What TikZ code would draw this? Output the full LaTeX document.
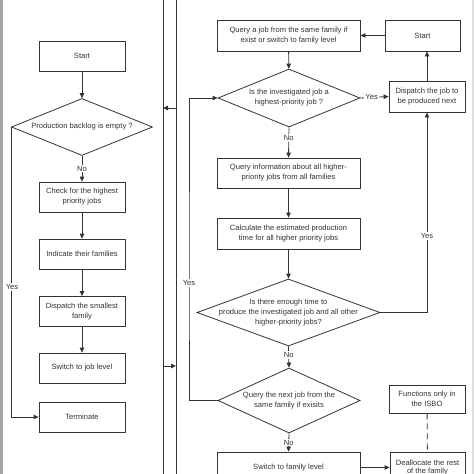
\documentclass[tikz,border=0pt]{standalone}
\usepackage{fontspec}
\setmainfont{Liberation Sans}
\usetikzlibrary{shapes.geometric, arrows.meta}

\begin{document}
\begin{tikzpicture}[x=1pt, y=-1pt,
    every node/.style={font=\fontsize{7.6}{10}\selectfont, text=black!80},
    process/.style={draw=black!80, line width=0.8pt, minimum height=30pt, inner sep=1pt, align=center},
    decision/.style={diamond, draw=black!80, line width=0.8pt, inner sep=0pt},
    txt/.style={align=center, inner sep=0pt},
    lbl/.style={fill=white, inner sep=1pt},
    flow/.style={draw=black!80, line width=0.8pt, -{Triangle[length=5pt, width=4.5pt]}},
    line/.style={draw=black!80, line width=0.8pt}]
    \useasboundingbox (0,0) rectangle (474,474);
    \clip (0,0) rectangle (474,474);
    \fill[gray!70] (0,0) rectangle (3,474);
    \fill[gray!25] (472,0) rectangle (474,474);

    % left chart
    \node[process, minimum width=86pt] (start1) at (82,56) {Start};
    \node[decision, minimum width=141pt, minimum height=57pt] (dec1) at (82,127) {};
    \node[txt] (dec1t) at (dec1) {Production backlog is empty ?};
    \node[process, minimum width=86pt] (check) at (82,197) {Check for the highest\\priority jobs};
    \node[process, minimum width=86pt] (indicate) at (82,254) {Indicate their families};
    \node[process, minimum width=86pt] (dispsmall) at (82,311.5) {Dispatch the smallest\\family};
    \node[process, minimum width=86pt] (joblevel) at (82,368) {Switch to job level};
    \node[process, minimum width=86pt] (term) at (82,417) {Terminate};

    \draw[flow] (start1) -- (dec1);
    \draw[flow] (dec1.south) -- (check.north) node[lbl, midway] {No};
    \draw[flow] (check) -- (indicate);
    \draw[flow] (indicate) -- (dispsmall);
    \draw[flow] (dispsmall) -- (joblevel);
    \draw[flow] (dec1.west) |- (term.west);
    \node[lbl] (yes1) at (12,287) {Yes};

    % middle lines
    \draw[line] (163,0) -- (163,474);
    \draw[line] (176,0) -- (176,474);
    \coordinate (inA) at (176,108);
    \coordinate (inB) at (163,108);
    \coordinate (outA) at (163,366);
    \coordinate (outB) at (176,366);
    \draw[flow] (inA) -- (inB);
    \draw[flow] (outA) -- (outB);

    % right chart
    \node[process, minimum width=143pt, minimum height=31pt] (query) at (288.5,35.5) {Query a job from the same family if\\exist or switch to family level};
    \node[process, minimum width=75pt, minimum height=31pt] (start2) at (422.5,35.5) {Start};
    \node[decision, minimum width=142pt, minimum height=58pt] (dec2) at (289,98) {};
    \node[txt] (dec2t) at (dec2) {Is the investigated job a\\highest-priority job ?};
    \node[process, minimum width=76pt, minimum height=31pt] (dispnext) at (427,96.5) {Dispatch the job to\\be produced next};
    \node[process, minimum width=143pt] (info) at (288.5,173) {Query information about all higher-\\priority jobs from all families};
    \node[process, minimum width=143pt, minimum height=31pt] (calc) at (288.5,233.5) {Calculate the estimated production\\time for all higher priority jobs};
    \node[decision, minimum width=183pt, minimum height=67pt] (dec3) at (288.5,312.5) {};
    \node[txt] (dec3t) at (dec3) {Is there enough time to\\produce the investigated job and all other\\higher-priority jobs?};
    \node[decision, minimum width=142pt, minimum height=65pt] (dec4) at (289,400.5) {};
    \node[txt] (dec4t) at (dec4) {Query the next job from the\\same family if exisits};
    \node[process, minimum width=143pt, minimum height=31pt] (famlevel) at (288.5,467.5) {Switch to family level};
    \node[process, minimum width=76pt, minimum height=28pt] (isbo) at (427,399) {Functions only in\\the ISBO};
    \node[process, minimum width=75pt, minimum height=31pt, font=\fontsize{7.6}{8.8}\selectfont] (dealloc) at (427.5,467.5) {Deallocate the rest\\of the family};

    \draw[flow] (start2) -- (query);
    \draw[flow] (query) -- (dec2);
    \draw[flow] (dec2.east) -- (dispnext.west) node[lbl, pos=0.4] {Yes};
    \draw[flow] (dispnext.north) -- (dispnext.north |- start2.south);
    \draw[flow] (dec2.south) -- (info.north) node[lbl, pos=0.35] {No};
    \draw[flow] (info) -- (calc);
    \draw[flow] (calc) -- (dec3);
    \draw[flow] (dec3.east) -| (dispnext.south);
    \node[lbl] (yes3) at (427,236) {Yes};
    \draw[flow] (dec3.south) -- (dec4.north) node[lbl, pos=0.4] {No};
    \draw[flow] (dec4.south) -- (famlevel.north) node[lbl, midway] {No};
    \coordinate (ybend) at (189,283);
    \draw[flow] (dec4.west) -| (ybend) |- (dec2.west);
    \node[lbl] (yes4) at (ybend) {Yes};
    \draw[flow] (famlevel) -- (dealloc);
    \draw[line, dash pattern=on 6pt off 4pt] (isbo) -- (dealloc);
\end{tikzpicture}
\end{document}
